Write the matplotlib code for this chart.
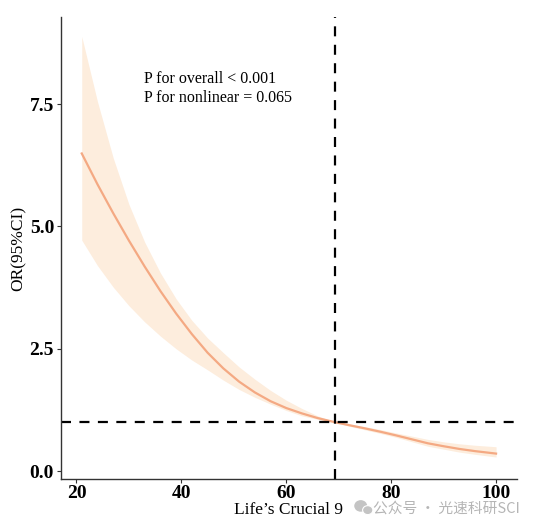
import matplotlib
matplotlib.use("Agg")
import matplotlib.pyplot as plt
from matplotlib.patches import Ellipse

# values
lc9 = [21, 24, 27, 30, 33, 36, 39, 42, 45, 48, 51, 54, 57, 60, 63, 66,
       69.3, 72, 75, 78, 81, 84, 87, 90, 93, 96, 100]
or_fit = [6.49, 5.86, 5.27, 4.71, 4.18, 3.68, 3.22, 2.80, 2.42, 2.10, 1.83, 1.61, 1.43, 1.29,
          1.18, 1.085, 1.00, 0.94, 0.875, 0.805, 0.73, 0.65, 0.57, 0.51, 0.455, 0.41, 0.36]
or_upper = [8.88, 7.55, 6.40, 5.45, 4.68, 4.05, 3.52, 3.08, 2.72, 2.42, 2.13, 1.88, 1.65, 1.45,
            1.28, 1.13, 1.00, 0.96, 0.91, 0.85, 0.78, 0.715, 0.65, 0.60, 0.56, 0.53, 0.50]
or_lower = [4.72, 4.20, 3.76, 3.38, 3.05, 2.76, 2.50, 2.27, 2.07, 1.86, 1.67, 1.51, 1.37, 1.24,
            1.13, 1.06, 1.00, 0.92, 0.845, 0.77, 0.69, 0.60, 0.51, 0.45, 0.39, 0.345, 0.29]
ref_x = 69.3
yticks = [0.0, 2.5, 5.0, 7.5]
xticks = [20, 40, 60, 80, 100]

plt.rcParams['font.family'] = ['Liberation Serif', 'DejaVu Serif']

fig = plt.figure(figsize=(5.4, 5.27), dpi=100)
ax = fig.add_axes([0.113, 0.091, 0.844, 0.877])

ax.fill_between(lc9, or_lower, or_upper, color='#FDEDDD', lw=0)
ax.plot(lc9, or_fit, color='#F4A983', lw=1.6, solid_joinstyle='round')

dash = (0, (4.5, 3.8))
ax.axhline(1, color='black', ls=dash, lw=1.6)
ax.axvline(ref_x, color='black', ls=dash, lw=1.6)

ax.set_xlim(17.05, 103.95)
ax.set_ylim(-0.16, 9.28)
ax.set_xticks(xticks)
ax.set_yticks(yticks)
ax.set_yticklabels([f"{v:.1f}" for v in yticks])

for s in ['top', 'right']:
    ax.spines[s].set_visible(False)
for s in ['left', 'bottom']:
    ax.spines[s].set_color('#333333')
    ax.spines[s].set_linewidth(1.0)

ax.tick_params(length=3, width=0.8, color='#333333', labelsize=14)
ax.tick_params(axis='y', pad=2)
ax.tick_params(axis='x', pad=1.0)
for lab in ax.get_xticklabels() + ax.get_yticklabels():
    lab.set_fontweight('bold')

ax.set_xlabel("Life\u2019s Crucial 9", fontsize=12.5, labelpad=0)
ax.set_ylabel("OR(95%CI)", fontsize=12.5)
ax.yaxis.set_label_coords(-0.075, 0.5)

ax.text(32.8, 7.82, "P for overall < 0.001\nP for nonlinear = 0.065",
        fontsize=11.5, va='center', ha='left', linespacing=1.3)

# watermark
fig.add_artist(Ellipse((0.668, 0.040), 0.024, 0.022, transform=fig.transFigure,
                       color='#C4C4C4', lw=0))
fig.add_artist(Ellipse((0.681, 0.032), 0.019, 0.017, transform=fig.transFigure,
                       color='#C4C4C4', ec='white', lw=0.8))
fig.text(0.691, 0.034, "公众号 · 光速科研SCI", color='#B5B5B5', fontsize=10.6,
         family=['Noto Sans CJK SC', 'DejaVu Sans'], va='center', ha='left')

fig.savefig('out.png', dpi=100, facecolor='white')
